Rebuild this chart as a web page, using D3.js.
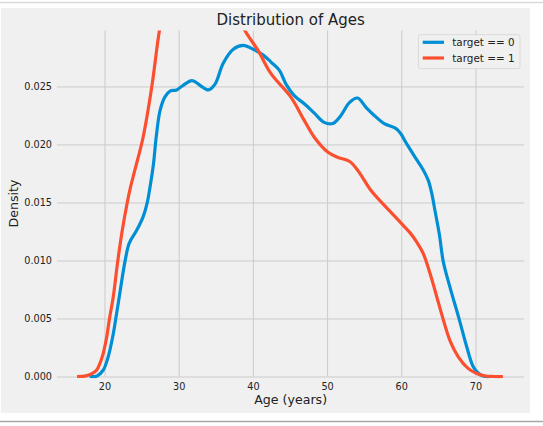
<!DOCTYPE html>
<html>
<head>
<meta charset="utf-8">
<script src="https://cdn.jsdelivr.net/npm/d3@7"></script>
<style>
  body { margin: 0; background: #fff; }
  svg { display: block; font-family: 'DejaVu Sans', sans-serif; }
</style>
</head>
<body>
<div id="chart"></div>
<script>
// KDE curves (age in years, density)
const ageTarget0 = [18.0, 19.0, 19.84, 20.5, 21.1, 21.5, 22.0, 22.76, 23.34, 24.34, 25.23, 25.77, 26.13, 26.58, 27.0,
  27.48, 28.15, 28.83, 29.73, 30.6, 31.8, 32.87, 33.99, 34.9, 36.0, 37.36, 38.7, 40.05, 41.4, 42.44, 43.56, 44.46,
  45.58, 46.93, 48.28, 49.6, 50.75, 51.87, 53.0, 54.1, 55.24, 56.36, 57.7, 59.3, 59.96, 60.5, 61.17, 61.85, 62.96,
  63.64, 64.1, 64.54, 65.12, 65.66, 66.56, 67.82, 68.8, 69.7, 70.4, 71.0, 72.0];
const densityTarget0 = [0, 0.00005, 0.00056, 0.0017, 0.0034, 0.0049, 0.0069, 0.0099, 0.0115, 0.0126, 0.0138, 0.0150,
  0.0163, 0.0182, 0.0208, 0.0229, 0.0241, 0.0246, 0.0247, 0.0251, 0.0255, 0.0251, 0.0247, 0.0252, 0.0270, 0.0282,
  0.02853, 0.0282, 0.0277, 0.0271, 0.0264, 0.0252, 0.0242, 0.0235, 0.0227, 0.0219, 0.0218, 0.0225, 0.0236, 0.0240,
  0.0232, 0.0225, 0.0218, 0.02136, 0.0209, 0.0203, 0.0196, 0.0189, 0.0178, 0.0169, 0.0158, 0.0143, 0.0123, 0.0099,
  0.0077, 0.0049, 0.0026, 0.00084, 0.00028, 0.00004, 0];

const ageTarget1 = [16.3, 17.5, 18.3, 18.95, 19.7, 20.3, 20.65, 21.19, 21.78, 22.4, 23.07, 23.5, 24.1, 25.2, 26.36,
  27.4, 28.5, 30.0, 32.0, 34.0, 36.0, 38.0, 38.93, 40.7, 42.44, 45.1, 46.9, 48.3, 50.08, 51.4, 53.0, 54.1, 55.9,
  57.5, 58.84, 60.0, 61.17, 62.07, 62.96, 63.87, 64.77, 65.66, 66.56, 67.68, 69.0, 70.1, 71.3, 72.5, 73.7];
const densityTarget1 = [0, 0.00005, 0.00025, 0.00056, 0.0017, 0.0034, 0.0049, 0.0069, 0.0099, 0.0126, 0.0150,
  0.0163, 0.0178, 0.0206, 0.0249, 0.0298, 0.0335, 0.0360, 0.0368, 0.0356, 0.0336, 0.0310, 0.0298, 0.0281, 0.0261,
  0.0241, 0.0221, 0.0206, 0.01935, 0.0189, 0.01855, 0.0178, 0.01605, 0.0149, 0.0140, 0.0132, 0.0124, 0.0116,
  0.0106, 0.0089, 0.0069, 0.0049, 0.0031, 0.0017, 0.0007, 0.00028, 0.00004, 0, 0];

const xTicks = [20, 30, 40, 50, 60, 70];
const yTicks = [0, 0.005, 0.010, 0.015, 0.020, 0.025];
const seriesNames = ['target == 0', 'target == 1'];

const blue = '#008fd5';
const red = '#fc4f30';
const gridColor = '#cbcbcb';
const textColor = '#222';

const width = 543;
const height = 426;
const plot = { left: 57, right: 524.3, top: 30.5, bottom: 376.5 };

const svg = d3.select('#chart').append('svg')
  .attr('width', width)
  .attr('height', height);

// page rules and figure background
svg.append('line').attr('x1', 0).attr('x2', width).attr('y1', 2.5).attr('y2', 2.5)
  .attr('stroke', '#d9d9d9').attr('stroke-width', 1.5);
svg.append('rect').attr('x', 1).attr('y', 8).attr('width', 529).attr('height', 405).attr('fill', '#f0f0f0');
svg.append('line').attr('x1', 0).attr('x2', width).attr('y1', 421.5).attr('y2', 421.5)
  .attr('stroke', '#a8a8a8').attr('stroke-width', 1.5);

const x = d3.scaleLinear().domain([13.6, 76.58]).range([plot.left, plot.right]);
const y = d3.scaleLinear().domain([0, 0.02982]).range([plot.bottom, plot.top]);

// grid
const g = svg.append('g');
g.append('g')
  .attr('transform', `translate(0,${plot.bottom})`)
  .call(d3.axisBottom(x).tickValues(xTicks).tickSize(-(plot.bottom - plot.top)).tickPadding(7).tickFormat(d3.format('d')))
  .call(a => a.select('.domain').remove())
  .call(a => a.selectAll('line').attr('stroke', gridColor).attr('stroke-width', 1))
  .call(a => a.selectAll('text').attr('fill', textColor).attr('font-size', 9.7).attr('font-family', 'DejaVu Sans'));

g.append('g')
  .attr('transform', `translate(${plot.left},0)`)
  .call(d3.axisLeft(y).tickValues(yTicks).tickSize(-(plot.right - plot.left)).tickPadding(5).tickFormat(d3.format('.3f')))
  .call(a => a.select('.domain').remove())
  .call(a => a.selectAll('line').attr('stroke', gridColor).attr('stroke-width', 1))
  .call(a => a.selectAll('text').attr('fill', textColor).attr('font-size', 9.7).attr('font-family', 'DejaVu Sans'));

// curves, clipped to the axes box
svg.append('clipPath').attr('id', 'clip')
  .append('rect')
  .attr('x', plot.left).attr('y', plot.top)
  .attr('width', plot.right - plot.left).attr('height', plot.bottom - plot.top + 2);

const line = d3.line()
  .x(d => x(d[0]))
  .y(d => y(d[1]))
  .curve(d3.curveCatmullRom.alpha(0.5));

const series = [
  { name: seriesNames[0], color: blue, points: d3.zip(ageTarget0, densityTarget0) },
  { name: seriesNames[1], color: red, points: d3.zip(ageTarget1, densityTarget1) },
];

svg.append('g').attr('clip-path', 'url(#clip)')
  .selectAll('path').data(series)
  .enter().append('path')
    .attr('d', d => line(d.points))
    .attr('fill', 'none')
    .attr('stroke', d => d.color)
    .attr('stroke-width', 3.2)
    .attr('stroke-linejoin', 'round')
    .attr('stroke-linecap', 'butt');

// title and axis labels
svg.append('text')
  .attr('x', (plot.left + plot.right) / 2).attr('y', 25)
  .attr('text-anchor', 'middle').attr('font-size', 15).attr('fill', textColor)
  .text('Distribution of Ages');

svg.append('text')
  .attr('x', (plot.left + plot.right) / 2).attr('y', 404)
  .attr('text-anchor', 'middle').attr('font-size', 12.6).attr('fill', textColor)
  .text('Age (years)');

svg.append('text')
  .attr('transform', `translate(18,${(plot.top + plot.bottom) / 2}) rotate(-90)`)
  .attr('text-anchor', 'middle').attr('font-size', 12.6).attr('fill', textColor)
  .text('Density');

// legend
const legend = svg.append('g').attr('transform', 'translate(418.5,34.7)');
legend.append('rect')
  .attr('width', 101.5).attr('height', 34).attr('rx', 2)
  .attr('fill', '#f0f0f0').attr('stroke', '#dadada').attr('stroke-width', 1);
const item = legend.selectAll('.item').data(series)
  .enter().append('g')
    .attr('class', 'item')
    .attr('transform', (d, i) => `translate(0,${7.6 + i * 15.7})`);
item.append('line')
  .attr('x1', 4.2).attr('x2', 25.5)
  .attr('stroke', d => d.color).attr('stroke-width', 3.2);
item.append('text')
  .attr('x', 33.8).attr('y', 3.7)
  .attr('font-size', 10.4).attr('fill', textColor)
  .text(d => d.name);
</script>
</body>
</html>
